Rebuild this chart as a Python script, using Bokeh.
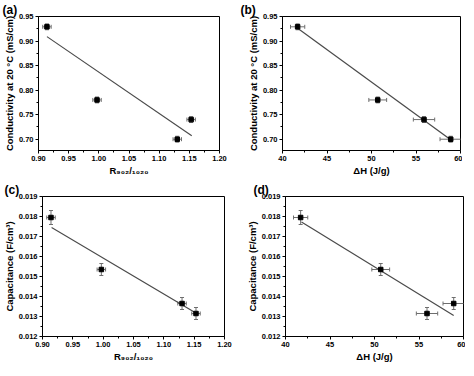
from bokeh.plotting import figure
from bokeh.layouts import column, row
from bokeh.models import (Range1d, Whisker, TeeHead, ColumnDataSource,
                          FixedTicker, NumeralTickFormatter)
from bokeh.embed import file_html
from bokeh.resources import INLINE

# ---- data ----
r_ratio = [0.914, 0.997, 1.130, 1.153]
r_err = [0.007, 0.007, 0.007, 0.007]
dh = [41.7, 50.7, 58.9, 55.9]
dh_err = [0.8, 1.0, 1.2, 1.2]
cond = [0.929, 0.780, 0.700, 0.740]
cond_err = [0.006, 0.006, 0.006, 0.006]
cap = [0.01795, 0.01535, 0.01365, 0.01315]
cap_err = [0.00035, 0.0003, 0.0003, 0.0003]

fit_a_x = [0.914, 1.154]
fit_a_y = [0.909, 0.707]
fit_b_x = [41.7, 58.9]
fit_b_y = [0.926, 0.699]
fit_c_x = [0.915, 1.150]
fit_c_y = [0.01745, 0.01323]
fit_d_x = [41.8, 58.9]
fit_d_y = [0.01773, 0.01305]

# tick positions
ticks_r = [0.90, 0.95, 1.00, 1.05, 1.10, 1.15, 1.20]
minor_r = [0.925, 0.975, 1.025, 1.075, 1.125, 1.175]
ticks_h = [40, 45, 50, 55, 60]
minor_h = [42.5, 47.5, 52.5, 57.5]
ticks_cond = [0.70, 0.75, 0.80, 0.85, 0.90, 0.95]
minor_cond = [0.675, 0.725, 0.775, 0.825, 0.875, 0.925]
ticks_cap = [0.012, 0.013, 0.014, 0.015, 0.016, 0.017, 0.018, 0.019]
minor_cap = [0.0125, 0.0135, 0.0145, 0.0155, 0.0165, 0.0175, 0.0185]

panel_tags = ["(a)", "(b)", "(c)", "(d)"]
x_label_r = "R\u2089\u2080\u2082/\u2081\u2080\u2082\u2080"
x_label_h = "\u0394H (J/g)"
y_label_cond = "Conductivity at 20 \u00b0C (mS/cm)"
y_label_cap = "Capacitance (F/cm\u00b3)"

FONT = "Liberation Sans"
ERR_COLOR = "#6e6e6e"


def panel(x, xe, y, ye, fx, fy, xr, yr, xt, xm, yt, ym, xfmt, yfmt, xlab, ylab,
          tag, fw, fh, bl, br, bt, bb, tag_off):
    p = figure(frame_width=fw, frame_height=fh, output_backend="svg", toolbar_location=None,
               x_range=Range1d(*xr), y_range=Range1d(*yr),
               min_border_left=bl, min_border_right=br,
               min_border_top=bt, min_border_bottom=bb)
    p.grid.visible = False
    p.outline_line_color = "black"
    p.outline_line_width = 1
    p.background_fill_color = "white"
    p.border_fill_color = "white"

    p.title.text = tag
    p.title.text_font = FONT
    p.title.text_font_size = "12px"
    p.title.text_font_style = "bold"
    p.title.text_color = "black"
    p.title.align = "left"
    p.title.offset = tag_off
    p.title.standoff = 0

    p.xaxis.ticker = FixedTicker(ticks=xt, minor_ticks=xm)
    p.yaxis.ticker = FixedTicker(ticks=yt, minor_ticks=ym)
    p.xaxis.formatter = NumeralTickFormatter(format=xfmt)
    p.yaxis.formatter = NumeralTickFormatter(format=yfmt)
    for ax in (p.xaxis[0], p.yaxis[0]):
        ax.major_tick_out = 3
        ax.major_tick_in = 0
        ax.minor_tick_out = 2
        ax.minor_tick_in = 0
        ax.axis_line_color = "black"
        ax.major_tick_line_color = "black"
        ax.minor_tick_line_color = "black"
        ax.major_label_text_font = FONT
        ax.major_label_text_font_size = "7.5px"
        ax.major_label_text_font_style = "bold"
        ax.major_label_text_color = "black"
        ax.major_label_standoff = 2
        ax.axis_label_text_font = FONT
        ax.axis_label_text_font_size = "9.5px"
        ax.axis_label_text_font_style = "bold"
        ax.axis_label_text_color = "black"
        ax.axis_label_standoff = 1
    p.xaxis.axis_label = xlab
    p.yaxis.axis_label = ylab

    src = ColumnDataSource(dict(
        x=x, y=y,
        xl=[a - b for a, b in zip(x, xe)], xu=[a + b for a, b in zip(x, xe)],
        yl=[a - b for a, b in zip(y, ye)], yu=[a + b for a, b in zip(y, ye)]))
    for dim, base, lo, up in (("width", "y", "xl", "xu"), ("height", "x", "yl", "yu")):
        p.add_layout(Whisker(source=src, base=base, lower=lo, upper=up,
                             dimension=dim, line_color=ERR_COLOR, line_width=1,
                             upper_head=TeeHead(size=4, line_color=ERR_COLOR, line_width=1),
                             lower_head=TeeHead(size=4, line_color=ERR_COLOR, line_width=1)))
    p.line(fx, fy, line_color="#4a4a4a", line_width=1.2)
    p.scatter("x", "y", source=src, marker="square", size=4.5, color="black")
    return p


pa = panel(r_ratio, r_err, cond, cond_err, fit_a_x, fit_a_y, (0.90, 1.20), (0.677, 0.95),
           ticks_r, minor_r, ticks_cond, minor_cond, "0.00", "0.00",
           x_label_r, y_label_cond, panel_tags[0], 181, 134, 30, 14, 12, 28, -36)
pb = panel(dh, dh_err, cond, cond_err, fit_b_x, fit_b_y, (40, 60), (0.677, 0.95),
           ticks_h, minor_h, ticks_cond, minor_cond, "0", "0.00",
           x_label_h, y_label_cond, panel_tags[1], 178, 134, 49, 2, 12, 28, -42)
pc = panel(r_ratio, r_err, cap, cap_err, fit_c_x, fit_c_y, (0.90, 1.20), (0.012, 0.019),
           ticks_r, minor_r, ticks_cap, minor_cap, "0.00", "0.000",
           x_label_r, y_label_cap, panel_tags[2], 182, 140, 32, 12, 18, 28, -38)
pd = panel(dh, dh_err, cap, cap_err, fit_d_x, fit_d_y, (40, 60), (0.012, 0.019),
           ticks_h, minor_h, ticks_cap, minor_cap, "0", "0.000",
           x_label_h, y_label_cap, panel_tags[3], 178, 140, 49, 2, 18, 28, -32)

layout = column(row(pa, pb), row(pc, pd))

open("out.html", "w").write(file_html(layout, INLINE))
